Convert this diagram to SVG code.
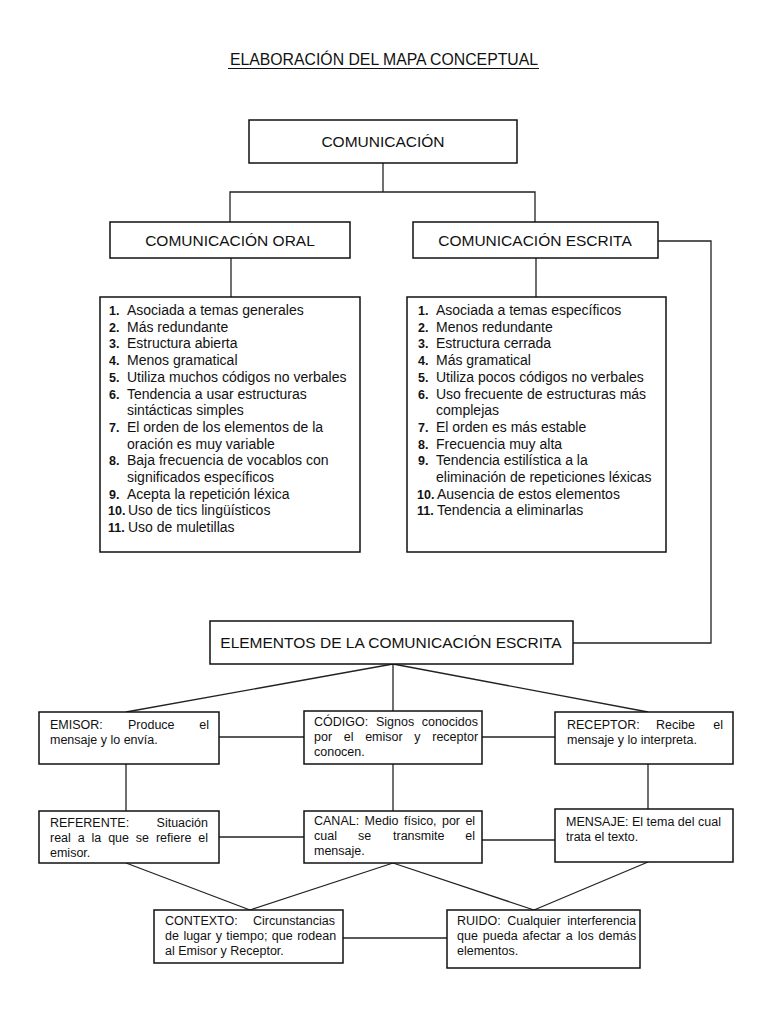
<svg xmlns="http://www.w3.org/2000/svg" width="768" height="1024" viewBox="0 0 768 1024">
<style>
.box{fill:#fff;stroke:#111;stroke-width:1.5}
.ln{fill:none;stroke:#222;stroke-width:1.3}
.t{font-family:"Liberation Sans",Arial,sans-serif;fill:#111}
.h{font-size:15.5px;text-anchor:middle}
.l{font-size:14px}
.n{font-size:12.5px;font-weight:bold}
.s{font-size:12.5px}
.e{text-anchor:end}
</style>
<rect width="768" height="1024" fill="#fff"/>
<g id="title">
<text class="t h" x="384" y="65" style="font-size:15.8px">ELABORACIÓN DEL MAPA CONCEPTUAL</text>
<line x1="228" y1="68.5" x2="539" y2="68.5" stroke="#111" stroke-width="1.1"/>
</g>
<g id="connectors">
<line class="ln" x1="383" y1="163" x2="383" y2="192" stroke-width="2"/>
<polyline class="ln" points="230,222 230,192 535,192 535,222"/>
<line class="ln" x1="231" y1="258" x2="231" y2="297"/>
<line class="ln" x1="536" y1="258" x2="536" y2="297"/>
<polyline class="ln" points="658,241 711,241 711,643 573,643"/>
<line class="ln" x1="393" y1="664" x2="126" y2="712"/>
<line class="ln" x1="393" y1="664" x2="393" y2="711"/>
<line class="ln" x1="393" y1="664" x2="648" y2="712"/>
<line class="ln" x1="219" y1="737" x2="304" y2="737"/>
<line class="ln" x1="482" y1="737" x2="555" y2="737"/>
<line class="ln" x1="126" y1="764" x2="126" y2="811"/>
<line class="ln" x1="393" y1="764" x2="393" y2="811"/>
<line class="ln" x1="648" y1="764" x2="648" y2="809"/>
<line class="ln" x1="219" y1="837" x2="304" y2="837"/>
<line class="ln" x1="482" y1="840" x2="555" y2="840"/>
<line class="ln" x1="126" y1="863" x2="250" y2="910"/>
<line class="ln" x1="393" y1="863" x2="250" y2="910"/>
<line class="ln" x1="393" y1="863" x2="534" y2="910"/>
<line class="ln" x1="648" y1="862" x2="534" y2="910"/>
<line class="ln" x1="343" y1="938" x2="447" y2="938"/>
</g>
<g id="comunicacion">
<rect class="box" x="249" y="120" width="268" height="43"/>
<text class="t h" x="383" y="147">COMUNICACIÓN</text>
</g>
<g id="oral">
<rect class="box" x="110" y="222" width="240" height="36"/>
<text class="t h" x="230" y="246">COMUNICACIÓN ORAL</text>
</g>
<g id="escrita">
<rect class="box" x="413" y="222" width="245" height="36"/>
<text class="t h" x="535" y="246">COMUNICACIÓN ESCRITA</text>
</g>
<g id="lista-oral">
<rect class="box" x="100" y="297" width="260" height="255"/>
<text class="t n" x="109" y="315">1.</text><text class="t l" x="127" y="315">Asociada a temas generales</text>
<text class="t n" x="109" y="331.7">2.</text><text class="t l" x="127" y="331.7">Más redundante</text>
<text class="t n" x="109" y="348.4">3.</text><text class="t l" x="127" y="348.4">Estructura abierta</text>
<text class="t n" x="109" y="365.1">4.</text><text class="t l" x="127" y="365.1">Menos gramatical</text>
<text class="t n" x="109" y="381.8">5.</text><text class="t l" x="127" y="381.8">Utiliza muchos códigos no verbales</text>
<text class="t n" x="109" y="398.5">6.</text><text class="t l" x="127" y="398.5">Tendencia a usar estructuras</text>
<text class="t l" x="127" y="415.2">sintácticas simples</text>
<text class="t n" x="109" y="431.9">7.</text><text class="t l" x="127" y="431.9">El orden de los elementos de la</text>
<text class="t l" x="127" y="448.6">oración es muy variable</text>
<text class="t n" x="109" y="465.3">8.</text><text class="t l" x="127" y="465.3">Baja frecuencia de vocablos con</text>
<text class="t l" x="127" y="482">significados específicos</text>
<text class="t n" x="109" y="498.7">9.</text><text class="t l" x="127" y="498.7">Acepta la repetición léxica</text>
<text class="t n" x="108" y="515.4">10.</text><text class="t l" x="128" y="515.4">Uso de tics lingüísticos</text>
<text class="t n" x="108" y="532.1">11.</text><text class="t l" x="128" y="532.1">Uso de muletillas</text>
</g>
<g id="lista-escrita">
<rect class="box" x="407" y="297" width="259" height="255"/>
<text class="t n" x="418" y="315">1.</text><text class="t l" x="436" y="315">Asociada a temas específicos</text>
<text class="t n" x="418" y="331.7">2.</text><text class="t l" x="436" y="331.7">Menos redundante</text>
<text class="t n" x="418" y="348.4">3.</text><text class="t l" x="436" y="348.4">Estructura cerrada</text>
<text class="t n" x="418" y="365.1">4.</text><text class="t l" x="436" y="365.1">Más gramatical</text>
<text class="t n" x="418" y="381.8">5.</text><text class="t l" x="436" y="381.8">Utiliza pocos códigos no verbales</text>
<text class="t n" x="418" y="398.5">6.</text><text class="t l" x="436" y="398.5">Uso frecuente de estructuras más</text>
<text class="t l" x="436" y="415.2">complejas</text>
<text class="t n" x="418" y="431.9">7.</text><text class="t l" x="436" y="431.9">El orden es más estable</text>
<text class="t n" x="418" y="448.6">8.</text><text class="t l" x="436" y="448.6">Frecuencia muy alta</text>
<text class="t n" x="418" y="465.3">9.</text><text class="t l" x="436" y="465.3">Tendencia estilística a la</text>
<text class="t l" x="436" y="482">eliminación de repeticiones léxicas</text>
<text class="t n" x="417" y="498.7">10.</text><text class="t l" x="437" y="498.7">Ausencia de estos elementos</text>
<text class="t n" x="417" y="515.4">11.</text><text class="t l" x="437" y="515.4">Tendencia a eliminarlas</text>
</g>
<g id="elementos">
<rect class="box" x="210" y="621" width="363" height="43"/>
<text class="t h" x="391" y="648">ELEMENTOS DE LA COMUNICACIÓN ESCRITA</text>
</g>
<g id="emisor">
<rect class="box" x="39" y="712" width="180" height="52"/>
<text class="t s" x="50" y="729">EMISOR:</text><text class="t s" x="128" y="729">Produce</text><text class="t s e" x="209" y="729">el</text>
<text class="t s" x="50" y="744">mensaje y lo envía.</text>
</g>
<g id="codigo">
<rect class="box" x="304" y="711" width="178" height="53"/>
<text class="t s" x="314" y="726">CÓDIGO:</text><text class="t s" x="376" y="726">Signos</text><text class="t s e" x="478" y="726">conocidos</text>
<text class="t s" x="314" y="741" word-spacing="8.2">por el emisor y receptor</text>
<text class="t s" x="314" y="756">conocen.</text>
</g>
<g id="receptor">
<rect class="box" x="555" y="712" width="178" height="52"/>
<text class="t s" x="567" y="729">RECEPTOR:</text><text class="t s" x="656" y="729">Recibe</text><text class="t s e" x="723" y="729">el</text>
<text class="t s" x="567" y="744">mensaje y lo interpreta.</text>
</g>
<g id="referente">
<rect class="box" x="39" y="811" width="180" height="52"/>
<text class="t s" x="50" y="827">REFERENTE:</text><text class="t s e" x="208" y="827">Situación</text>
<text class="t s" x="50" y="842" word-spacing="3.4">real a la que se refiere el</text>
<text class="t s" x="50" y="857">emisor.</text>
</g>
<g id="canal">
<rect class="box" x="304" y="811" width="178" height="52"/>
<text class="t s" x="314" y="825" word-spacing="1.9">CANAL: Medio físico, por el</text>
<text class="t s" x="314" y="840">cual</text><text class="t s" x="358" y="840">se</text><text class="t s" x="393" y="840">transmite</text><text class="t s e" x="475" y="840">el</text>
<text class="t s" x="314" y="855">mensaje.</text>
</g>
<g id="mensaje">
<rect class="box" x="555" y="809" width="178" height="53"/>
<text class="t s" x="566" y="826">MENSAJE: El tema del cual</text>
<text class="t s" x="566" y="841">trata el texto.</text>
</g>
<g id="contexto">
<rect class="box" x="154" y="910" width="189" height="53"/>
<text class="t s" x="165" y="925">CONTEXTO:</text><text class="t s e" x="335" y="925">Circunstancias</text>
<text class="t s" x="165" y="940" word-spacing="1">de lugar y tiempo; que rodean</text>
<text class="t s" x="165" y="955">al Emisor y Receptor.</text>
</g>
<g id="ruido">
<rect class="box" x="447" y="910" width="193" height="58"/>
<text class="t s" x="457" y="925" word-spacing="3">RUIDO: Cualquier interferencia</text>
<text class="t s" x="457" y="940" word-spacing="1.5">que pueda afectar a los demás</text>
<text class="t s" x="457" y="955">elementos.</text>
</g>
</svg>
